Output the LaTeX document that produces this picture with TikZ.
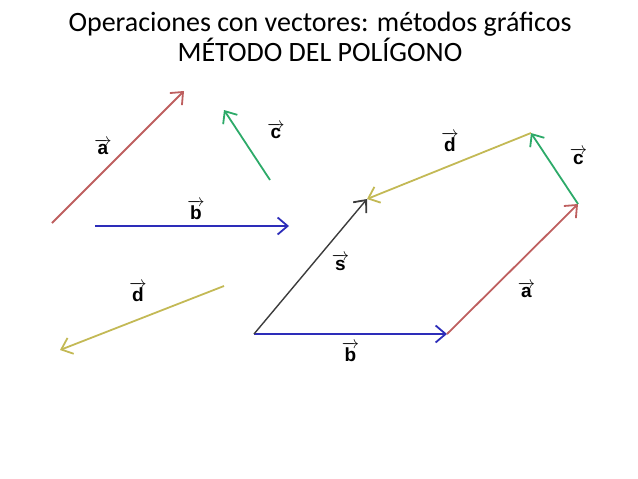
\documentclass[tikz,border=0pt]{standalone}
\usepackage{fontspec}
\setmainfont{Carlito}
\newfontfamily\labfont{Liberation Sans}
\usetikzlibrary{arrows.meta}
\definecolor{VecA}{RGB}{190, 95, 95}
\definecolor{VecB}{RGB}{45, 45, 185}
\definecolor{VecC}{RGB}{45, 170, 105}
\definecolor{VecD}{RGB}{195, 185, 85}
\definecolor{VecS}{RGB}{60, 60, 60}
\newcommand{\vlab}[1]{$\overrightarrow{\mbox{\labfont\bfseries #1}}$}
\tikzset{
	vec/.style={line width=1.8pt, -{Straight Barb[length=10pt, width=17pt, line width=1.8pt]}},
	vlabel/.style={font=\fontsize{19}{21}\selectfont, inner sep=0pt, text=black, midway}
}

\begin{document}
\begin{tikzpicture}[x=1pt, y=-1pt]
		\useasboundingbox (0,0) rectangle (638,479);

		% Title
		\node[font=\fontsize{28}{30}\selectfont, align=center] (title) at (320,37) {Operaciones con vectores: métodos gráficos\\MÉTODO DEL POLÍGONO};

		% loose vectors
		\coordinate (a0) at (52,223);  \coordinate (a1) at (184,91);
		\coordinate (c0) at (270,180); \coordinate (c1) at (224,110);
		\coordinate (b0) at (95,226);  \coordinate (b1) at (289,226);
		\coordinate (d0) at (224,286); \coordinate (d1) at (60,350);
		\path[vec, VecA] (a0) edge node[vlabel, xshift=-15pt, yshift=10pt] {\vlab{a}} (a1);
		\path[vec, VecC] (c0) edge node[vlabel, xshift=29pt, yshift=14pt] {\vlab{c}} (c1);
		\path[vec, VecB] (b0) edge node[vlabel, xshift=4pt, yshift=16pt] {\vlab{b}} (b1);
		\path[vec, VecD] (d0) edge node[vlabel, xshift=-4pt, yshift=26pt] {\vlab{d}} (d1);

		% polygon
		\coordinate (p0) at (254,334); \coordinate (p1) at (447,334);
		\coordinate (p2) at (578,204); \coordinate (p3) at (531,133);
		\coordinate (p4) at (367,199);
		\path[vec, VecB] (p0) edge node[vlabel, yshift=-18pt] {\vlab{b}} (p1);
		\path[vec, VecA] (p1) edge node[vlabel, xshift=14pt, yshift=-21pt] {\vlab{a}} (p2);
		\path[vec, VecC] (p2) edge node[vlabel, xshift=24pt, yshift=12pt] {\vlab{c}} (p3);
		\path[vec, VecD] (p3) edge node[vlabel, xshift=1pt, yshift=24pt] {\vlab{d}} (p4);
		\path[vec, VecS, line width=1.4pt] (p0) edge node[vlabel, xshift=30pt, yshift=4pt] {\vlab{s}} (p4);
	\end{tikzpicture}
\end{document}
